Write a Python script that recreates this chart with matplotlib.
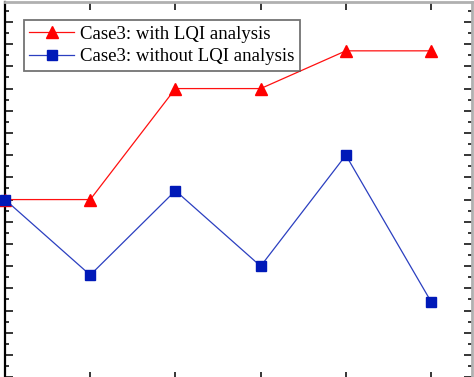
import matplotlib
matplotlib.use("Agg")
import matplotlib.pyplot as plt
from matplotlib.ticker import MultipleLocator

x_vals = [1, 2, 3, 4, 5, 6]
with_lqi = [8.0, 8.0, 13.0, 13.0, 14.7, 14.7]
without_lqi = [8.0, 4.6, 8.4, 5.0, 10.0, 3.4]
labels = ["Case3: with LQI analysis", "Case3: without LQI analysis"]

plt.rcParams['font.family'] = ['Liberation Serif', 'DejaVu Serif']

W, H = 474, 377
fig = plt.figure(figsize=(W / 100, H / 100), dpi=100)
left_px, right_px, top_px, bot_px = 5, 472, 2, 380.5
ax = fig.add_axes([left_px / W, 1 - bot_px / H, (right_px - left_px) / W, (bot_px - top_px) / H])

ax.plot(x_vals, with_lqi, color='#ff1010', lw=0.9, marker='^', ms=8.5,
        markerfacecolor='#ff0000', markeredgecolor='#ff0000', label=labels[0], clip_on=False, zorder=3)
ax.plot(x_vals, without_lqi, color='#2b3fc0', lw=0.9, marker='s', ms=7,
        markerfacecolor='#0019b8', markeredgecolor='#0019b8', label=labels[1], clip_on=False, zorder=3)

ax.set_xlim(1, 6.48)
ax.set_ylim(-0.15, 16.9)
ax.xaxis.set_major_locator(MultipleLocator(1))
ax.yaxis.set_major_locator(MultipleLocator(1))
ax.yaxis.set_minor_locator(MultipleLocator(0.5))
ax.tick_params(axis='both', which='major', direction='in', length=5.5, width=1.1,
               top=True, right=True, labelleft=False, labelbottom=False, color='black')
ax.tick_params(axis='y', which='minor', direction='in', length=3, width=1.1,
               left=True, right=True, color='black')
ax.tick_params(axis='x', which='minor', bottom=False, top=False)

ax.spines['left'].set_color('black')
ax.spines['left'].set_linewidth(1.6)
ax.spines['top'].set_color('#b0b0b0')
ax.spines['top'].set_linewidth(2.0)
ax.spines['right'].set_color('#b0b0b0')
ax.spines['right'].set_linewidth(2.0)
ax.spines['bottom'].set_color('black')

leg = ax.legend(loc='upper left', bbox_to_anchor=(0.041, 0.952), fontsize=13.5,
                frameon=True, fancybox=False, edgecolor='#505050', handlelength=2.4,
                borderpad=0.28, labelspacing=0.3, handletextpad=0.3, borderaxespad=0)
leg.get_frame().set_linewidth(1.3)

fig.savefig('out.png', dpi=100)
